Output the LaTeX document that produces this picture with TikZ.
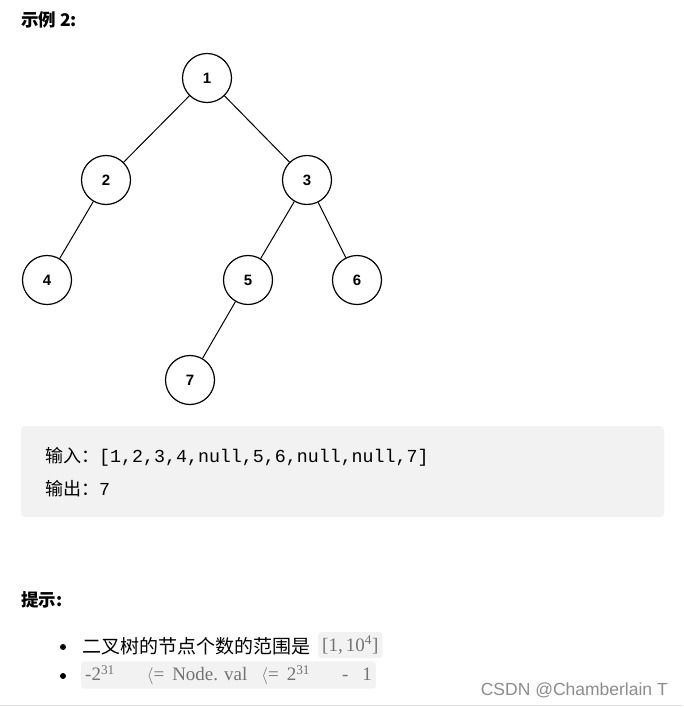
\documentclass[tikz,border=0pt]{standalone}
\usepackage{fontspec}
\setmainfont{Liberation Sans}
\newfontfamily\cjk{Noto Sans CJK SC}
\newfontfamily\mono{Liberation Mono}
\newfontfamily\chipf{Liberation Serif}
\begin{document}
\begin{tikzpicture}[x=1pt,y=-1pt,
  tn/.style={circle,draw,line width=1.2pt,minimum size=49pt,inner sep=0pt,font=\fontsize{15}{18}\selectfont\bfseries},
  ed/.style={line width=1pt},
  chip/.style={fill=black!5,rounded corners=3pt,inner sep=4pt,text=black!55,font=\chipf\fontsize{19}{22}\selectfont,anchor=west},
  txt/.style={anchor=west,inner sep=0pt}]
\useasboundingbox (0,0) rectangle (683,707);
\node[txt,font=\cjk\fontsize{17.5}{20}\selectfont\bfseries] (title) at (21,20) {示例 2:};
\node[tn] (n1) at (207,78) {1};
\node[tn] (n2) at (106,180) {2};
\node[tn] (n3) at (307,180) {3};
\node[tn] (n4) at (47,280) {4};
\node[tn] (n5) at (248,280) {5};
\node[tn] (n6) at (357,280) {6};
\node[tn] (n7) at (190,380) {7};
\draw[ed] (n1)--(n2); \draw[ed] (n1)--(n3); \draw[ed] (n2)--(n4);
\draw[ed] (n3)--(n5); \draw[ed] (n3)--(n6); \draw[ed] (n5)--(n7);
\fill[black!5,rounded corners=4pt] (21,426) rectangle (664,517);
\node[txt,font=\fontsize{18}{20}\selectfont] (in) at (45,457) {{\cjk 输入：}{\mono\fontsize{18.3}{20}\selectfont[1,2,3,4,null,5,6,null,null,7]}};
\node[txt,font=\fontsize{18}{20}\selectfont] (out) at (45,489) {{\cjk 输出：}{\mono\fontsize{18.3}{20}\selectfont 7}};
\node[txt,font=\cjk\fontsize{17.5}{20}\selectfont\bfseries] (hint) at (21,600) {提示:};
\fill (63,647) circle (3pt);
\fill (63,676) circle (3pt);
\node[txt,font=\cjk\fontsize{19}{22}\selectfont] (b1) at (82,646) {二叉树的节点个数的范围是};
\node[chip] (c1) at (318,645) {[1,\,10\textsuperscript{4}]};
\node[chip] (c2) at (81,675) {-2\textsuperscript{31}\hspace{32pt}$\langle$=\hspace{8pt}Node.\hspace{6pt}val\hspace{14pt}$\langle$=\hspace{8pt}2\textsuperscript{31}\hspace{32pt}-\hspace{14pt}1};
\node[anchor=east,inner sep=0pt,text=black!45,font=\fontsize{17.5}{20}\selectfont] (wm) at (668,690) {CSDN @Chamberlain T};
\draw[black!10] (0,705)--(683,705);
\end{tikzpicture}
\end{document}
